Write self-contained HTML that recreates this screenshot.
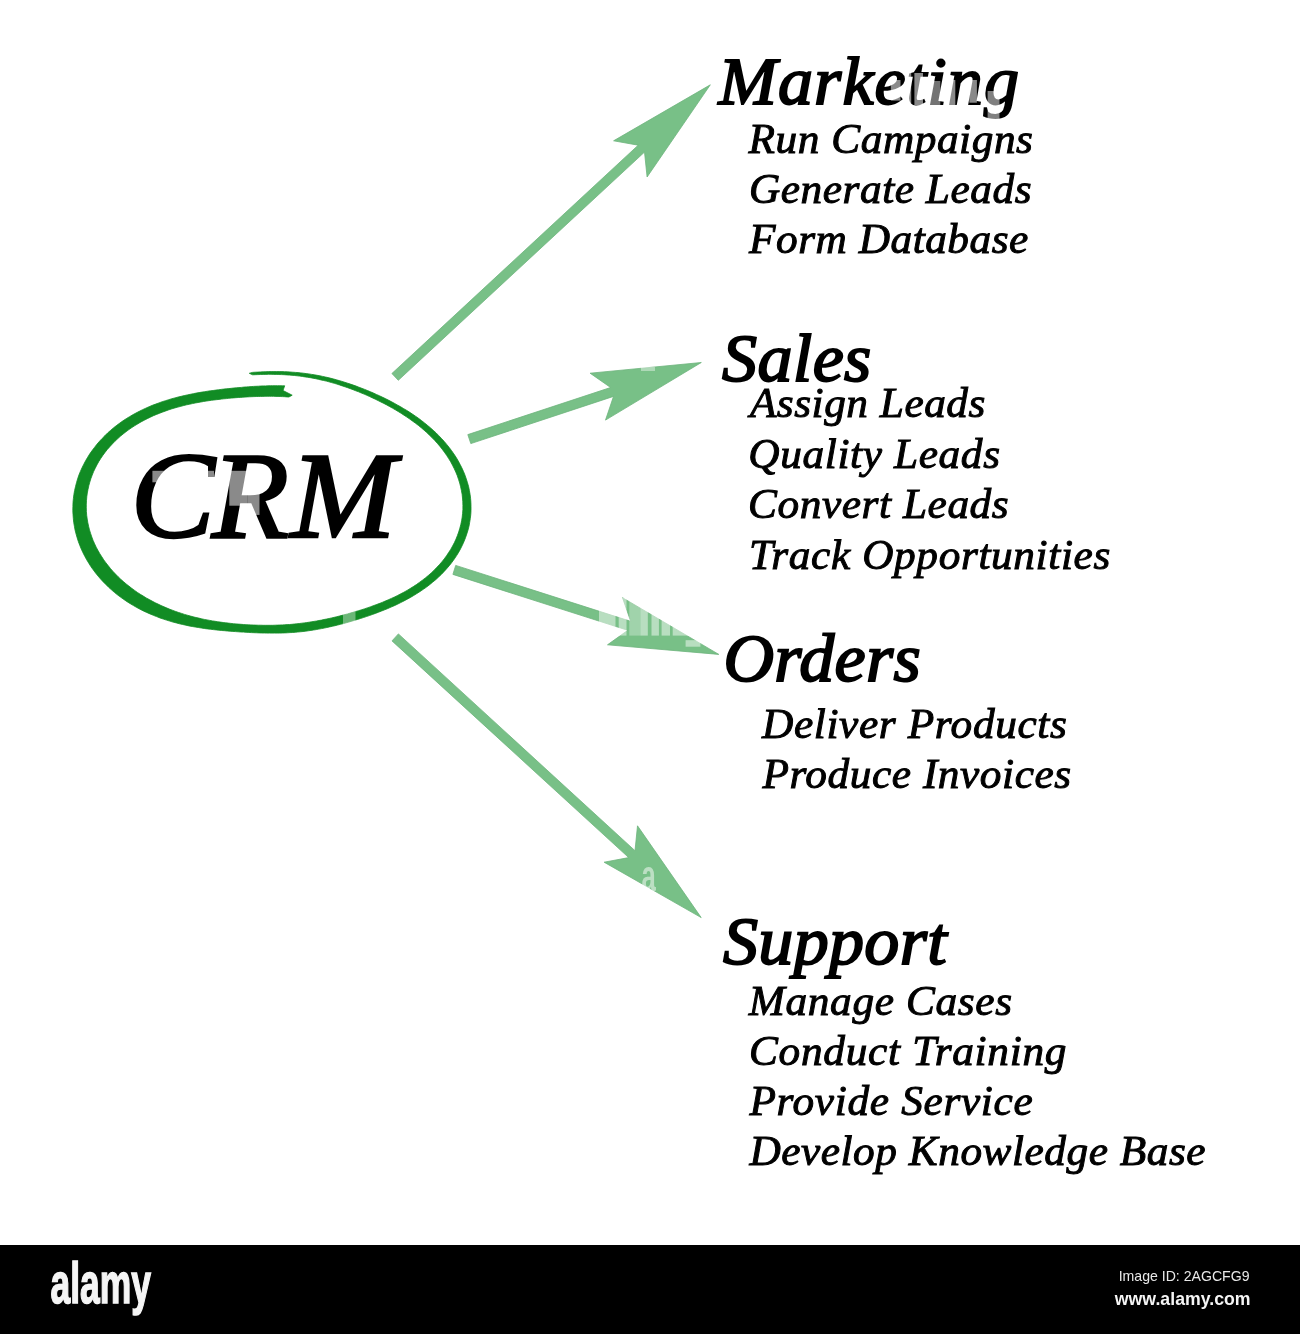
<!DOCTYPE html>
<html><head><meta charset="utf-8"><title>CRM</title>
<style>
html,body{margin:0;padding:0;background:#fff;}
body{width:1300px;height:1334px;position:relative;overflow:hidden;font-family:"Liberation Sans",sans-serif;}
</style></head><body>
<svg width="1300" height="1334" viewBox="0 0 1300 1334" style="position:absolute;left:0;top:0;will-change:transform"><path d="M710.3,84.8 L647.1,177.0 L644.5,152.1 L398.3,380.3 L391.9,373.5 L638.2,145.2 L613.6,140.8 Z" fill="#78c087" stroke="#6db47c" stroke-width="0.8" stroke-linejoin="miter"/><path d="M701.3,362.5 L605.5,420.1 L613.5,396.4 L470.8,443.6 L467.8,434.6 L610.6,387.5 L590.1,373.2 Z" fill="#78c087" stroke="#6db47c" stroke-width="0.8" stroke-linejoin="miter"/><path d="M718.8,654.4 L607.5,644.8 L627.8,630.3 L452.9,574.4 L455.7,565.4 L630.7,621.3 L622.5,597.7 Z" fill="#78c087" stroke="#6db47c" stroke-width="0.8" stroke-linejoin="miter"/><path d="M701.2,917.6 L604.1,862.2 L628.7,857.6 L392.0,640.9 L398.4,633.9 L635.0,850.7 L637.5,825.8 Z" fill="#78c087" stroke="#6db47c" stroke-width="0.8" stroke-linejoin="miter"/><path d="M249.3,373.3 L252.5,372.4 L255.2,372.2 L257.8,372.1 L260.5,371.9 L263.2,371.8 L265.9,371.7 L268.5,371.6 L271.2,371.6 L273.9,371.6 L276.6,371.6 L279.2,371.6 L281.9,371.6 L284.6,371.7 L287.3,371.8 L290.0,372.0 L292.7,372.2 L295.4,372.4 L298.1,372.6 L300.8,372.9 L303.5,373.2 L306.2,373.6 L308.9,373.9 L311.7,374.4 L314.4,374.8 L317.1,375.3 L319.9,375.8 L322.6,376.4 L325.4,377.0 L328.1,377.6 L330.9,378.3 L333.7,379.0 L336.4,379.8 L339.2,380.6 L342.0,381.4 L344.8,382.3 L347.6,383.2 L350.4,384.1 L353.3,385.1 L356.1,386.1 L358.9,387.2 L361.8,388.3 L364.7,389.4 L367.6,390.6 L370.5,391.8 L373.4,393.0 L376.3,394.4 L379.3,395.7 L382.2,397.1 L385.2,398.5 L388.2,400.0 L391.2,401.6 L394.2,403.2 L397.2,404.9 L400.3,406.6 L403.3,408.4 L406.4,410.2 L409.4,412.1 L412.4,414.1 L415.5,416.2 L418.5,418.3 L421.5,420.6 L424.5,422.9 L427.4,425.3 L430.3,427.7 L433.2,430.3 L436.1,432.9 L438.8,435.7 L441.5,438.5 L444.2,441.4 L446.7,444.4 L449.2,447.5 L451.6,450.7 L453.9,454.0 L456.1,457.3 L458.1,460.7 L460.0,464.3 L461.8,467.8 L463.5,471.5 L465.0,475.2 L466.3,479.0 L467.5,482.8 L468.6,486.6 L469.4,490.6 L470.1,494.5 L470.6,498.5 L470.9,502.4 L471.0,506.4 L471.0,510.4 L470.8,514.4 L470.3,518.4 L469.7,522.3 L469.0,526.2 L468.0,530.1 L466.8,533.9 L465.5,537.7 L464.0,541.5 L462.4,545.1 L460.6,548.7 L458.7,552.2 L456.6,555.6 L454.3,559.0 L452.0,562.2 L449.5,565.4 L446.9,568.4 L444.2,571.4 L441.5,574.3 L438.6,577.0 L435.7,579.7 L432.6,582.2 L429.6,584.7 L426.5,587.1 L423.3,589.3 L420.1,591.5 L416.9,593.5 L413.7,595.5 L410.5,597.4 L407.2,599.2 L404.0,600.9 L400.7,602.6 L397.5,604.2 L394.3,605.7 L391.0,607.1 L387.9,608.5 L384.7,609.8 L381.6,611.0 L378.5,612.2 L375.4,613.4 L372.3,614.5 L369.3,615.6 L366.3,616.6 L363.3,617.6 L360.4,618.5 L357.5,619.4 L354.6,620.3 L351.7,621.2 L348.9,622.0 L346.1,622.8 L343.3,623.6 L340.5,624.3 L337.7,625.0 L335.0,625.7 L332.3,626.3 L329.5,626.9 L326.9,627.5 L324.2,628.1 L321.5,628.6 L318.8,629.1 L316.2,629.6 L313.5,630.0 L310.9,630.4 L308.3,630.8 L305.6,631.2 L303.0,631.5 L300.4,631.8 L297.8,632.0 L295.2,632.3 L292.6,632.5 L290.0,632.6 L287.4,632.8 L284.8,632.9 L282.3,633.0 L279.7,633.1 L277.1,633.1 L274.6,633.1 L272.0,633.1 L269.4,633.1 L266.8,633.1 L264.3,633.0 L261.7,633.0 L259.1,632.9 L256.5,632.8 L253.9,632.7 L251.3,632.6 L248.7,632.4 L246.1,632.3 L243.5,632.1 L240.8,632.0 L238.2,631.8 L235.5,631.6 L232.8,631.4 L230.1,631.2 L227.3,631.0 L224.5,630.7 L221.7,630.5 L218.9,630.2 L216.1,629.9 L213.2,629.6 L210.3,629.2 L207.3,628.9 L204.3,628.5 L201.3,628.0 L198.3,627.5 L195.2,627.0 L192.2,626.5 L189.0,625.9 L185.9,625.2 L182.7,624.5 L179.5,623.8 L176.3,622.9 L173.0,622.1 L169.8,621.1 L166.5,620.1 L163.2,619.0 L159.9,617.9 L156.6,616.6 L153.3,615.3 L150.0,613.9 L146.6,612.4 L143.3,610.9 L140.0,609.2 L136.8,607.5 L133.5,605.6 L130.3,603.7 L127.1,601.7 L123.9,599.5 L120.8,597.3 L117.7,595.0 L114.7,592.6 L111.8,590.1 L108.9,587.5 L106.1,584.7 L103.3,581.9 L100.6,579.0 L98.1,576.1 L95.6,573.0 L93.2,569.8 L90.9,566.6 L88.8,563.2 L86.7,559.8 L84.8,556.3 L83.0,552.8 L81.3,549.1 L79.8,545.4 L78.4,541.7 L77.2,537.9 L76.1,534.1 L75.1,530.2 L74.4,526.3 L73.7,522.3 L73.3,518.3 L73.0,514.4 L72.8,510.4 L72.9,506.4 L73.0,502.4 L73.4,498.4 L73.9,494.4 L74.6,490.5 L75.5,486.6 L76.5,482.7 L77.6,478.9 L78.9,475.1 L80.4,471.4 L82.0,467.8 L83.8,464.2 L85.7,460.6 L87.7,457.2 L89.8,453.8 L92.1,450.6 L94.5,447.4 L96.9,444.3 L99.5,441.3 L102.2,438.4 L105.0,435.6 L107.8,432.8 L110.8,430.2 L113.7,427.7 L116.8,425.3 L119.9,423.0 L123.0,420.8 L126.2,418.7 L129.5,416.7 L132.7,414.8 L136.0,413.0 L139.3,411.3 L142.5,409.7 L145.8,408.2 L149.1,406.7 L152.4,405.3 L155.7,404.1 L159.0,402.9 L162.2,401.7 L165.5,400.7 L168.7,399.7 L171.9,398.7 L175.0,397.9 L178.2,397.0 L181.3,396.3 L184.3,395.6 L187.3,394.9 L190.3,394.3 L193.3,393.7 L196.2,393.1 L199.1,392.6 L202.0,392.1 L204.8,391.7 L207.6,391.2 L210.4,390.8 L213.1,390.5 L215.8,390.1 L218.5,389.8 L221.1,389.4 L223.7,389.1 L226.3,388.8 L228.9,388.6 L231.4,388.3 L233.9,388.0 L236.4,387.8 L238.9,387.6 L241.4,387.4 L243.9,387.1 L246.3,386.9 L248.7,386.8 L251.2,386.6 L253.6,386.4 L256.0,386.3 L258.4,386.2 L260.8,386.0 L263.2,385.9 L265.6,385.9 L267.9,385.8 L270.3,385.7 L272.7,385.7 L275.1,385.7 L277.5,385.7 L279.9,385.7 L282.3,385.8 L284.7,385.8 L283.0,390.5 L292.2,395.2 L288.9,397.0 L286.7,396.9 L284.6,396.7 L282.4,396.6 L280.2,396.5 L278.0,396.4 L275.9,396.4 L273.7,396.3 L271.5,396.3 L269.3,396.3 L267.1,396.3 L265.0,396.3 L262.8,396.4 L260.6,396.4 L258.4,396.5 L256.2,396.5 L254.0,396.6 L251.8,396.7 L249.5,396.8 L247.3,396.9 L245.0,397.1 L242.8,397.2 L240.5,397.4 L238.2,397.5 L235.9,397.7 L233.5,397.9 L231.2,398.1 L228.8,398.3 L226.4,398.6 L223.9,398.8 L221.5,399.1 L219.0,399.4 L216.5,399.7 L213.9,400.0 L211.4,400.3 L208.8,400.7 L206.1,401.1 L203.5,401.5 L200.8,402.0 L198.0,402.5 L195.2,403.0 L192.4,403.6 L189.6,404.2 L186.7,404.8 L183.8,405.5 L180.9,406.3 L177.9,407.1 L174.9,407.9 L171.9,408.8 L168.9,409.8 L165.8,410.9 L162.8,412.0 L159.7,413.2 L156.6,414.4 L153.4,415.7 L150.3,417.2 L147.2,418.7 L144.1,420.3 L141.0,421.9 L138.0,423.7 L134.9,425.6 L131.9,427.5 L128.9,429.6 L126.0,431.7 L123.1,434.0 L120.3,436.3 L117.6,438.8 L114.9,441.3 L112.3,444.0 L109.8,446.7 L107.3,449.5 L105.0,452.4 L102.8,455.4 L100.7,458.5 L98.7,461.7 L96.9,464.9 L95.2,468.3 L93.6,471.6 L92.2,475.1 L90.9,478.6 L89.8,482.1 L88.8,485.7 L88.0,489.4 L87.3,493.0 L86.8,496.7 L86.5,500.4 L86.3,504.1 L86.3,507.8 L86.4,511.6 L86.7,515.3 L87.2,519.0 L87.8,522.6 L88.6,526.3 L89.5,529.9 L90.6,533.4 L91.8,537.0 L93.1,540.4 L94.6,543.8 L96.2,547.2 L98.0,550.5 L99.8,553.7 L101.8,556.8 L103.8,559.9 L106.0,562.9 L108.3,565.8 L110.6,568.7 L113.0,571.4 L115.5,574.1 L118.1,576.7 L120.7,579.2 L123.4,581.6 L126.1,583.9 L128.9,586.1 L131.7,588.3 L134.6,590.4 L137.4,592.4 L140.3,594.3 L143.3,596.1 L146.2,597.9 L149.2,599.5 L152.1,601.1 L155.1,602.7 L158.1,604.1 L161.0,605.5 L164.0,606.8 L167.0,608.1 L169.9,609.3 L172.9,610.4 L175.8,611.5 L178.7,612.5 L181.6,613.4 L184.5,614.4 L187.4,615.2 L190.3,616.0 L193.1,616.8 L196.0,617.5 L198.8,618.1 L201.5,618.8 L204.3,619.4 L207.1,619.9 L209.8,620.4 L212.5,620.9 L215.2,621.3 L217.8,621.8 L220.5,622.1 L223.1,622.5 L225.7,622.8 L228.3,623.1 L230.9,623.4 L233.4,623.7 L236.0,623.9 L238.5,624.1 L241.0,624.3 L243.5,624.5 L246.0,624.7 L248.4,624.8 L250.9,624.9 L253.4,625.0 L255.8,625.1 L258.2,625.2 L260.7,625.2 L263.1,625.3 L265.5,625.3 L267.9,625.3 L270.3,625.3 L272.7,625.3 L275.1,625.2 L277.5,625.1 L279.9,625.0 L282.4,624.9 L284.8,624.8 L287.2,624.6 L289.6,624.5 L292.0,624.3 L294.4,624.0 L296.9,623.8 L299.3,623.5 L301.7,623.2 L304.2,622.9 L306.6,622.6 L309.1,622.2 L311.5,621.8 L314.0,621.4 L316.5,621.0 L319.0,620.5 L321.5,620.1 L324.0,619.5 L326.6,619.0 L329.1,618.5 L331.7,617.9 L334.3,617.3 L336.9,616.7 L339.5,616.0 L342.2,615.3 L344.9,614.6 L347.6,613.9 L350.3,613.1 L353.0,612.3 L355.8,611.5 L358.6,610.7 L361.5,609.8 L364.3,608.9 L367.2,607.9 L370.2,606.9 L373.1,605.8 L376.1,604.7 L379.1,603.6 L382.2,602.4 L385.2,601.1 L388.3,599.8 L391.4,598.4 L394.5,597.0 L397.7,595.4 L400.8,593.8 L403.9,592.2 L407.1,590.4 L410.2,588.5 L413.3,586.6 L416.4,584.6 L419.4,582.4 L422.4,580.2 L425.4,577.9 L428.3,575.5 L431.2,573.0 L433.9,570.4 L436.6,567.6 L439.3,564.8 L441.8,561.9 L444.2,558.9 L446.5,555.8 L448.6,552.6 L450.7,549.4 L452.6,546.0 L454.4,542.6 L456.0,539.1 L457.4,535.6 L458.7,532.0 L459.8,528.3 L460.8,524.6 L461.6,520.8 L462.2,517.1 L462.6,513.3 L462.9,509.4 L462.9,505.6 L462.8,501.8 L462.5,498.0 L462.1,494.2 L461.4,490.4 L460.6,486.7 L459.7,483.0 L458.5,479.3 L457.3,475.7 L455.8,472.1 L454.2,468.6 L452.5,465.2 L450.7,461.8 L448.7,458.6 L446.6,455.3 L444.4,452.2 L442.2,449.2 L439.8,446.2 L437.3,443.3 L434.8,440.5 L432.2,437.8 L429.5,435.2 L426.8,432.6 L424.1,430.2 L421.3,427.8 L418.5,425.5 L415.6,423.3 L412.7,421.2 L409.8,419.1 L406.9,417.1 L404.0,415.2 L401.1,413.3 L398.2,411.5 L395.3,409.8 L392.4,408.1 L389.5,406.5 L386.7,404.9 L383.8,403.4 L380.9,402.0 L378.1,400.6 L375.3,399.2 L372.5,397.9 L369.7,396.6 L366.9,395.3 L364.1,394.1 L361.3,393.0 L358.6,391.8 L355.8,390.8 L353.1,389.7 L350.4,388.7 L347.7,387.7 L345.0,386.8 L342.3,385.9 L339.6,385.0 L336.9,384.1 L334.3,383.3 L331.6,382.6 L328.9,381.8 L326.3,381.1 L323.6,380.5 L320.9,379.9 L318.3,379.3 L315.7,378.7 L313.0,378.2 L310.4,377.7 L307.7,377.3 L305.1,376.9 L302.5,376.5 L299.8,376.1 L297.2,375.8 L294.6,375.5 L292.0,375.3 L289.3,375.1 L286.7,374.9 L284.1,374.7 L281.5,374.6 L278.9,374.5 L276.2,374.4 L273.6,374.4 L271.0,374.3 L268.4,374.3 L265.8,374.4 L263.2,374.4 L260.5,374.5 L257.9,374.6 L255.3,374.7 L252.6,374.8 Z" fill="#118c24" stroke="#118c24" stroke-width="0.8"/><text transform="matrix(1 0 0 0.975 0 13.425)" x="130.5 211.8 290.5" y="537" font-family="Liberation Serif" font-style="italic" font-size="126.5" fill="#000" stroke="#000" stroke-width="2.5">CRM</text><text transform="matrix(1 0 0 0.95 0 7.640)" x="748.5" y="152.8" font-family="Liberation Serif" font-style="italic" font-size="43.3" letter-spacing="0.558" fill="#000" stroke="#000" stroke-width="1.0">Run Campaigns</text><text transform="matrix(1 0 0 0.95 0 10.165)" x="749.0" y="203.3" font-family="Liberation Serif" font-style="italic" font-size="43.3" letter-spacing="0.554" fill="#000" stroke="#000" stroke-width="1.0">Generate Leads</text><text transform="matrix(1 0 0 0.95 0 12.665)" x="749.0" y="253.3" font-family="Liberation Serif" font-style="italic" font-size="43.3" letter-spacing="0.533" fill="#000" stroke="#000" stroke-width="1.0">Form Database</text><text transform="matrix(1 0 0 0.95 0 20.840)" x="749.9" y="416.8" font-family="Liberation Serif" font-style="italic" font-size="43.3" letter-spacing="0.527" fill="#000" stroke="#000" stroke-width="1.0">Assign Leads</text><text transform="matrix(1 0 0 0.95 0 23.380)" x="748.3" y="467.6" font-family="Liberation Serif" font-style="italic" font-size="43.3" letter-spacing="0.633" fill="#000" stroke="#000" stroke-width="1.0">Quality Leads</text><text transform="matrix(1 0 0 0.95 0 25.910)" x="748.0" y="518.2" font-family="Liberation Serif" font-style="italic" font-size="43.3" letter-spacing="0.583" fill="#000" stroke="#000" stroke-width="1.0">Convert Leads</text><text transform="matrix(1 0 0 0.95 0 28.435)" x="749.0" y="568.7" font-family="Liberation Serif" font-style="italic" font-size="43.3" letter-spacing="0.633" fill="#000" stroke="#000" stroke-width="1.0">Track Opportunities</text><text transform="matrix(1 0 0 0.95 0 36.880)" x="762.0" y="737.6" font-family="Liberation Serif" font-style="italic" font-size="43.3" letter-spacing="0.633" fill="#000" stroke="#000" stroke-width="1.0">Deliver Products</text><text transform="matrix(1 0 0 0.95 0 39.410)" x="762.5" y="788.2" font-family="Liberation Serif" font-style="italic" font-size="43.3" letter-spacing="0.567" fill="#000" stroke="#000" stroke-width="1.0">Produce Invoices</text><text transform="matrix(1 0 0 0.95 0 50.735)" x="748.8" y="1014.7" font-family="Liberation Serif" font-style="italic" font-size="43.3" letter-spacing="0.655" fill="#000" stroke="#000" stroke-width="1.0">Manage Cases</text><text transform="matrix(1 0 0 0.95 0 53.240)" x="749.0" y="1064.8" font-family="Liberation Serif" font-style="italic" font-size="43.3" letter-spacing="0.72" fill="#000" stroke="#000" stroke-width="1.0">Conduct Training</text><text transform="matrix(1 0 0 0.95 0 55.760)" x="749.5" y="1115.2" font-family="Liberation Serif" font-style="italic" font-size="43.3" letter-spacing="0.679" fill="#000" stroke="#000" stroke-width="1.0">Provide Service</text><text transform="matrix(1 0 0 0.95 0 58.270)" x="749.5" y="1165.4" font-family="Liberation Serif" font-style="italic" font-size="43.3" letter-spacing="0.538" fill="#000" stroke="#000" stroke-width="1.0">Develop Knowledge Base</text><text transform="matrix(1 0 0 0.96 0 4.176)" x="718.6" y="104.4" font-family="Liberation Serif" font-style="italic" font-size="70" letter-spacing="1.1" fill="#000" stroke="#000" stroke-width="2.0">Marketing</text><text transform="matrix(1 0 0 0.96 0 15.232)" x="722.0" y="380.8" font-family="Liberation Serif" font-style="italic" font-size="70" letter-spacing="0.4" fill="#000" stroke="#000" stroke-width="2.0">Sales</text><text transform="matrix(1 0 0 0.96 0 27.248)" x="723.4" y="681.2" font-family="Liberation Serif" font-style="italic" font-size="70" letter-spacing="0.32" fill="#000" stroke="#000" stroke-width="2.0">Orders</text><text transform="matrix(1 0 0 0.96 0 38.572)" x="723.0" y="964.3" font-family="Liberation Serif" font-style="italic" font-size="70" letter-spacing="0.333" fill="#000" stroke="#000" stroke-width="2.0">Support</text><g fill="#fff"><rect x="152.4" y="470.8" width="61.6" height="11.5" opacity="0.54"/><rect x="229.3" y="470.8" width="18.3" height="34.9" opacity="0.54"/><rect x="247.6" y="491.2" width="11.9" height="23.7" opacity="0.54"/><rect x="890.8" y="80" width="9.7" height="20.6" opacity="0.54"/><rect x="905.8" y="73" width="5.4" height="32" opacity="0.54"/><rect x="914.4" y="73" width="8.6" height="32" opacity="0.54"/><rect x="927.4" y="81" width="12.9" height="24" opacity="0.45"/><rect x="945.7" y="80" width="9.6" height="25" opacity="0.54"/><rect x="969.3" y="80" width="7.6" height="22.7" opacity="0.54"/><rect x="987.6" y="91" width="11.9" height="28" opacity="0.5"/><rect x="599" y="598" width="16.5" height="37.6" opacity="0.48"/><rect x="618.7" y="598" width="7.8" height="37.6" opacity="0.48"/><rect x="629.3" y="598" width="11.1" height="37.6" opacity="0.3"/><rect x="640.4" y="598" width="7.4" height="37.6" opacity="0.48"/><rect x="651.5" y="598" width="7.4" height="37.6" opacity="0.48"/><rect x="661.6" y="598" width="8.4" height="37.6" opacity="0.48"/><rect x="672.7" y="598" width="25" height="37.6" opacity="0.48"/><rect x="685.6" y="640.2" width="14.8" height="6.5" opacity="0.48"/><rect x="343" y="610" width="12.5" height="16" opacity="0.38"/><rect x="641" y="367" width="14" height="4" opacity="0.4"/></g><text x="641.5" y="890.5" font-family="Liberation Sans" font-weight="bold" font-size="44" textLength="14.3" lengthAdjust="spacingAndGlyphs" fill="#fff" opacity="0.5">a</text><rect x="0" y="1245" width="1300" height="89" fill="#000"/><text x="50.5" y="1303.3" font-family="Liberation Sans" font-weight="bold" font-size="58" textLength="100.5" lengthAdjust="spacingAndGlyphs" fill="#f5f5f5" stroke="#f5f5f5" stroke-width="1.6">alamy</text><text x="1249.5" y="1281.3" text-anchor="end" font-family="Liberation Sans" font-size="14.1" fill="#e8e8e8">Image ID: 2AGCFG9</text><text x="1250.5" y="1305" text-anchor="end" font-family="Liberation Sans" font-weight="bold" font-size="17.7" fill="#f5f5f5">www.alamy.com</text></svg>
</body></html>
